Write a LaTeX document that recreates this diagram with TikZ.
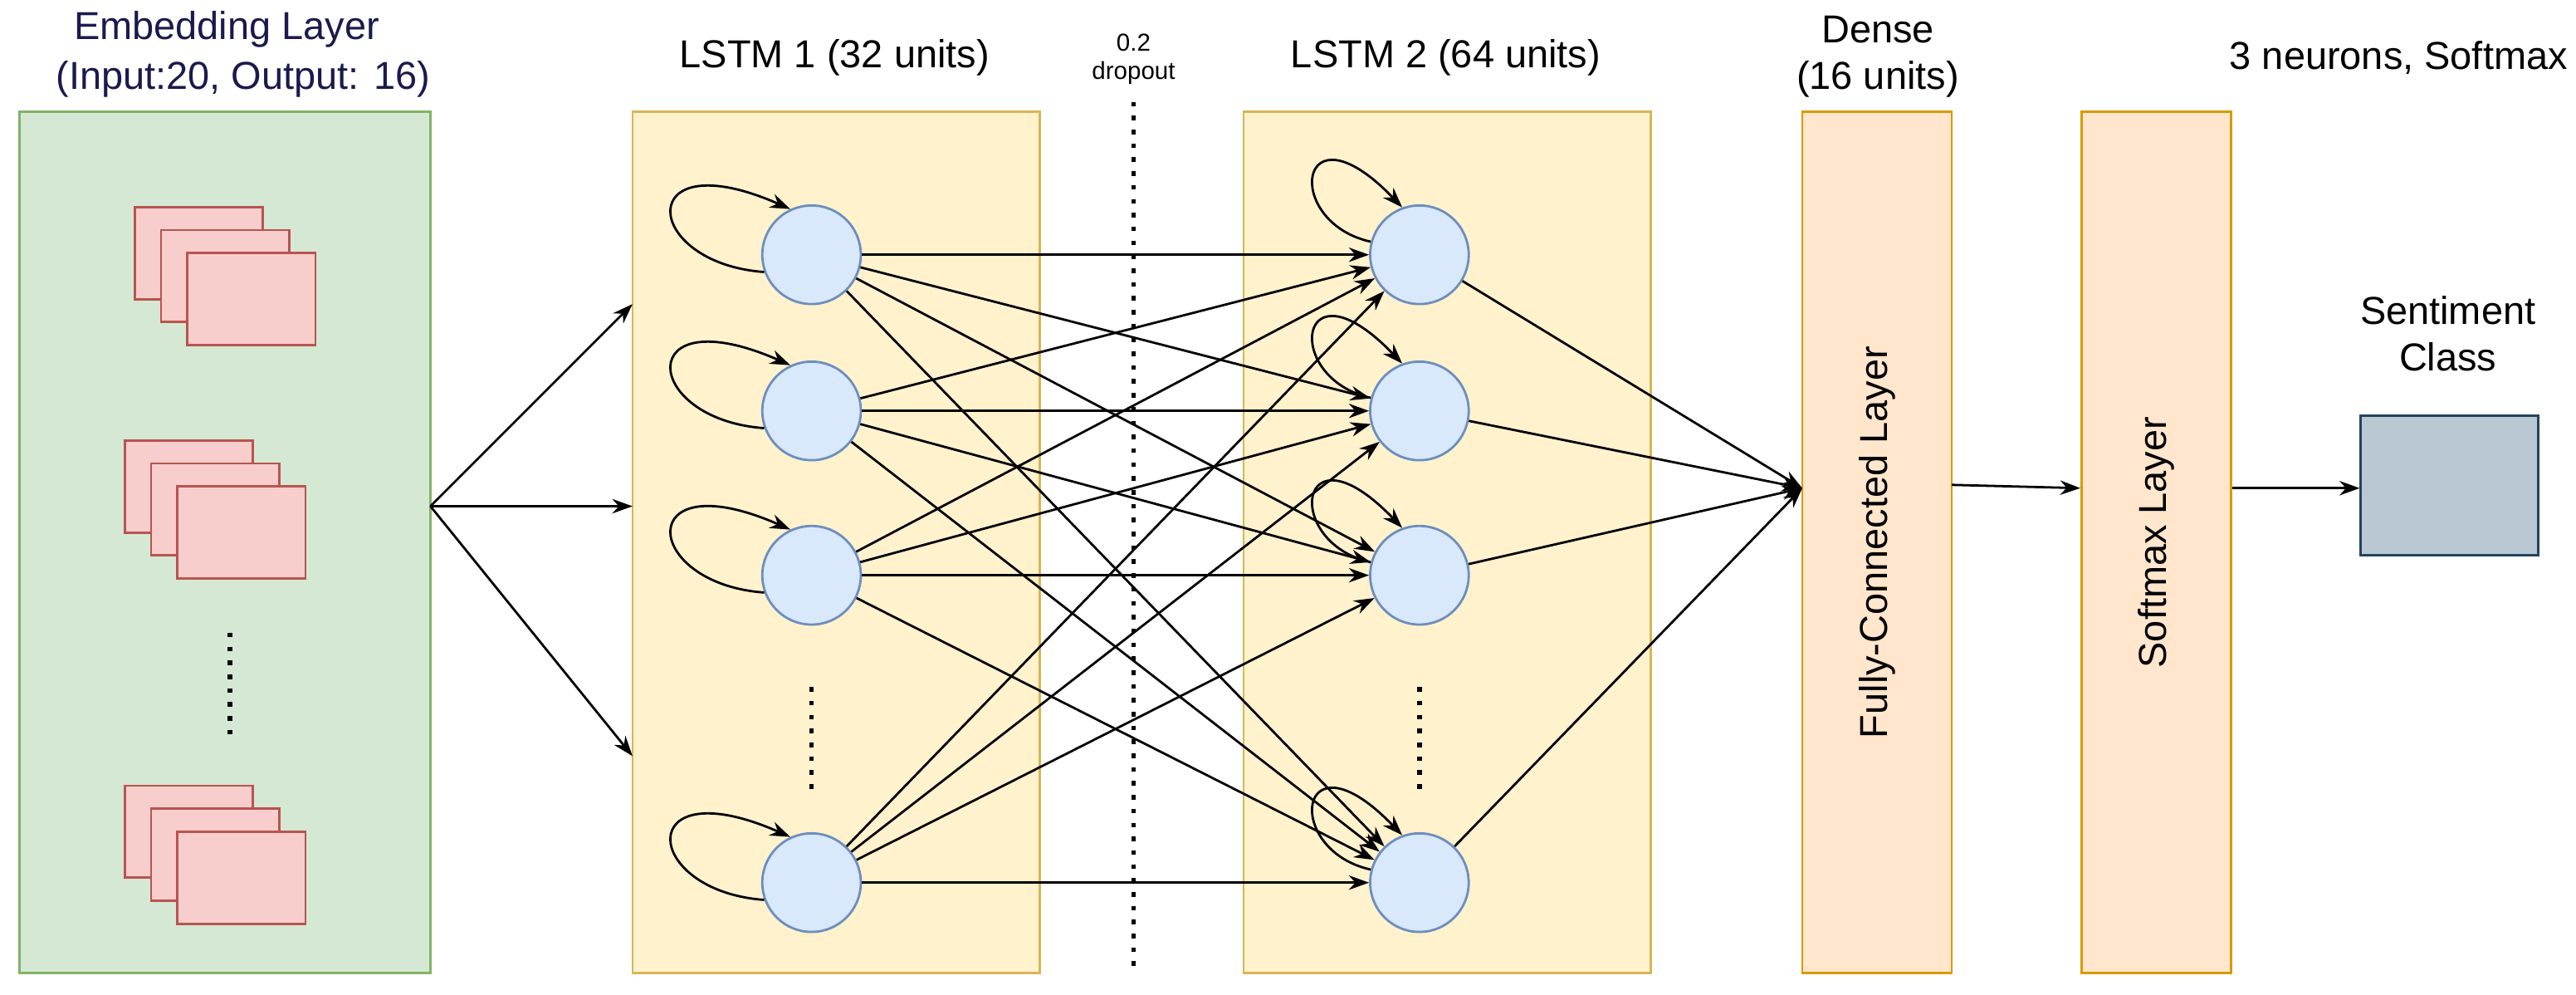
\documentclass[tikz,border=0pt]{standalone}
\usepackage{fontspec}
\setmainfont{Liberation Sans}
\usetikzlibrary{arrows.meta,calc}
\definecolor{embfill}{HTML}{D5E8D4}\definecolor{embdraw}{HTML}{82B366}
\definecolor{redfill}{HTML}{F8CECC}\definecolor{reddraw}{HTML}{B85450}
\definecolor{yelfill}{HTML}{FFF2CC}\definecolor{yeldraw}{HTML}{D6B656}
\definecolor{orafill}{HTML}{FFE6CC}\definecolor{oradraw}{HTML}{D79B00}
\definecolor{blufill}{HTML}{DAE8FC}\definecolor{bludraw}{HTML}{6C8EBF}
\definecolor{grafill}{HTML}{BAC8D3}\definecolor{gradraw}{HTML}{23445D}
\definecolor{navy}{HTML}{1A1A4E}
\begin{document}
\begin{tikzpicture}[x=0.02cm,y=-0.02cm,
  box/.style={draw, line width=0.8pt, minimum width=#1*0.02cm, minimum height=10.48cm, inner sep=0pt},
  card/.style={draw=reddraw, fill=redfill, line width=0.8pt, minimum width=1.56cm, minimum height=1.12cm, inner sep=0pt},
  unit/.style={circle, draw=bludraw, fill=blufill, line width=0.8pt, minimum size=1.2cm, inner sep=0pt},
  con/.style={-{Stealth[length=7pt,width=5pt]}, line width=0.8pt},
  lbl/.style={font=\fontsize{13.5}{16}\selectfont, align=center},
  vdots/.style={line width=1.6pt, dash pattern=on 1.6pt off 3.2pt}]
\useasboundingbox (0,0) rectangle (1568,605);
% layer boxes
\node[box=250, draw=embdraw, fill=embfill] (emb) at (137,330) {};
\node[box=248, draw=yeldraw, fill=yelfill] (l1) at (509,330) {};
\node[box=248, draw=yeldraw, fill=yelfill] (l2) at (881,330) {};
\node[box=91, draw=oradraw, fill=orafill] (dense) at (1142.5,330) {};
\node[box=91, draw=oradraw, fill=orafill] (soft) at (1312.5,330) {};
\node[lbl, rotate=90] (fctext) at (dense.center) {Fully-Connected Layer};
\node[lbl, rotate=90] (smtext) at (soft.center) {Softmax Layer};
\node[draw=gradraw, fill=grafill, line width=0.8pt, minimum width=2.16cm, minimum height=1.7cm, inner sep=0pt] (out) at (1491,295.5) {};
% titles
\node[lbl, text=navy] (t1) at (138,18) {Embedding Layer};
\node[lbl, text=navy] (t1b) at (148,48) {(Input:20, Output: 16)};
\node[lbl] (t2) at (508,35) {LSTM 1 (32 units)};
\node[lbl] (t3) at (880,35) {LSTM 2 (64 units)};
\node[lbl] (t4) at (1143,18) {Dense};
\node[lbl] (t4b) at (1143,48) {(16 units)};
\node[lbl] (t5) at (1460,35) {3 neurons, Softmax};
\node[lbl] (t6) at (1490,203) {Sentiment\\Class};
\node[font=\fontsize{8.5}{10}\selectfont, align=center] (drop) at (690,36) {0.2\\dropout};
\draw[vdots] (690,62) -- (690,592);
% embedding cards
\foreach \x/\y [count=\g] in {82/126,76/268,76/478}{
  \node[card] (c\g a) at (\x+39,\y+28) {};
  \node[card] (c\g b) at (\x+55,\y+42) {};
  \node[card] (c\g c) at (\x+71,\y+56) {};
}
\draw[vdots] (140,385) -- (140,450);
% units
\foreach \y [count=\i] in {155,250,350,537}{
  \node[unit] (a\i) at (494,\y) {};
  \node[unit] (b\i) at (864,\y) {};
  \draw[con] (a\i.200) .. controls (390,\y+5) and (385,\y-70) .. (a\i.115);
  \draw[con] (b\i.165) .. controls (780,\y-20) and (790,\y-95) .. (b\i.110);
}
\draw[vdots] (494,418) -- (494,482);
\draw[vdots] (864,418) -- (864,482);
% embedding to lstm1
\coordinate (eo) at (262,308);
\coordinate (e1) at (385,185);
\coordinate (e2) at (385,308);
\coordinate (e3) at (385,460);
\foreach \k in {1,2,3} \draw[con] (eo) -- (e\k);
% lstm1 to lstm2
\foreach \i in {1,...,4} \foreach \j in {1,...,4} \draw[con] (a\i) -- (b\j);
% lstm2 to dense
\coordinate (din) at (1097,297);
\foreach \j in {1,...,4} \draw[con] (b\j) -- (din);
\draw[con] (1188,295) -- (soft.west |- 0,297);
\draw[con] (soft.east |- 0,297) -- (out.west |- 0,297);
\end{tikzpicture}
\end{document}
